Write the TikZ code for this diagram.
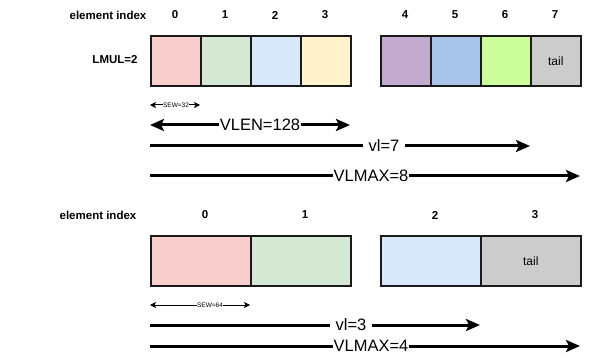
\documentclass[tikz,border=0pt]{standalone}
\usepackage{fontspec}
\setmainfont{Liberation Sans}
\usetikzlibrary{arrows.meta}
\definecolor{cA}{HTML}{F8CECC}
\definecolor{cB}{HTML}{D5E8D4}
\definecolor{cC}{HTML}{DAE8FC}
\definecolor{cD}{HTML}{FFF2CC}
\definecolor{cE}{HTML}{C3ABD0}
\definecolor{cF}{HTML}{A9C4EB}
\definecolor{cG}{HTML}{CCFF99}
\definecolor{cH}{HTML}{CCCCCC}
\definecolor{edge}{HTML}{1A1A1A}
\tikzset{
  cell/.style={draw=edge, line width=1.6pt, inner sep=0pt, minimum height=50pt, anchor=north west, font=\fontsize{12}{12}\selectfont},
  lab/.style={font=\bfseries\fontsize{11.5}{12}\selectfont, inner sep=0pt},
  big/.style={font=\fontsize{16.5}{17}\selectfont, fill=white, inner sep=0.5pt},
  tiny/.style={font=\fontsize{6.5}{7}\selectfont, fill=white, inner sep=0.3pt},
  bigtip/.tip={Stealth[length=14pt,width=12pt,inset=3pt]},
  smalltip/.tip={Stealth[length=6pt,width=6pt,inset=1.5pt]},
  thick arrow/.style={line width=3pt, -bigtip},
  both arrow/.style={line width=3pt, bigtip-bigtip},
  thin arrow/.style={line width=1pt, smalltip-smalltip},
}
\begin{document}
\begin{tikzpicture}[x=1pt,y=-1pt]
\useasboundingbox[fill=white] (0,0) rectangle (591,358);
% ---- top section ----
\node[lab] (ei1) at (108,15) {element index};
\foreach \i/\x in {0/175,1/225,2/275,3/325,4/405,5/455,6/505,7/555}
  \node[lab] (t\i) at (\x,15) {\i};
\node[lab] (lmul) at (115,60) {LMUL=2};
\node[cell, fill=cA, minimum width=50pt] (a0) at (150,35) {};
\node[cell, fill=cB, minimum width=50pt] (a1) at (200,35) {};
\node[cell, fill=cC, minimum width=50pt] (a2) at (250,35) {};
\node[cell, fill=cD, minimum width=50pt] (a3) at (300,35) {};
\node[cell, fill=cE, minimum width=50pt] (a4) at (380,35) {};
\node[cell, fill=cF, minimum width=50pt] (a5) at (430,35) {};
\node[cell, fill=cG, minimum width=50pt] (a6) at (480,35) {};
\node[cell, fill=cH, minimum width=50pt] (a7) at (530,35) {tail};
% arrows
\coordinate (s1a) at (150,105); \coordinate (s1b) at (200,105);
\draw[thin arrow] (s1a) -- (s1b);
\node[tiny] (sew32) at (176,105) {SEW=32};
\coordinate (v1a) at (150,125); \coordinate (v1b) at (350,125);
\draw[both arrow] (v1a) -- (v1b);
\node[big] (vlen) at (260,125) {VLEN=128};
\coordinate (l1a) at (150,146); \coordinate (l1b) at (530,146);
\draw[thick arrow] (l1a) -- (l1b);
\node[big, inner xsep=6pt] (vl7) at (384,146) {vl=7};
\coordinate (m1a) at (150,176); \coordinate (m1b) at (580,176);
\draw[thick arrow] (m1a) -- (m1b);
\node[big] (vm8) at (371,176) {VLMAX=8};
% ---- bottom section ----
\node[lab] (ei2) at (98,215) {element index};
\foreach \i/\x in {0/205,1/305,2/435,3/535}
  \node[lab] (u\i) at (\x,215) {\i};
\node[cell, fill=cA, minimum width=100pt] (b0) at (150,235) {};
\node[cell, fill=cB, minimum width=100pt] (b1) at (250,235) {};
\node[cell, fill=cC, minimum width=100pt] (b2) at (380,235) {};
\node[cell, fill=cH, minimum width=100pt] (b3) at (480,235) {tail};
\coordinate (s2a) at (150,305); \coordinate (s2b) at (250,305);
\draw[thin arrow] (s2a) -- (s2b);
\node[tiny] (sew64) at (210,305) {SEW=64};
\coordinate (l2a) at (150,325); \coordinate (l2b) at (480,325);
\draw[thick arrow] (l2a) -- (l2b);
\node[big, inner xsep=6pt] (vl3) at (351,325) {vl=3};
\coordinate (m2a) at (150,346); \coordinate (m2b) at (580,346);
\draw[thick arrow] (m2a) -- (m2b);
\node[big] (vm4) at (371,346) {VLMAX=4};
\end{tikzpicture}
\end{document}
